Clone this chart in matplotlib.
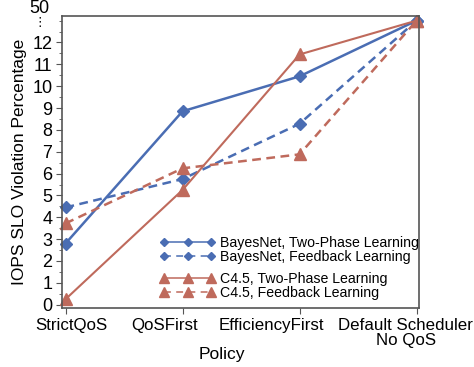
import matplotlib
matplotlib.use("Agg")
import matplotlib.pyplot as plt
from matplotlib.lines import Line2D
from matplotlib.ticker import MultipleLocator, NullFormatter
from matplotlib.transforms import ScaledTranslation, blended_transform_factory

plt.rcParams["font.family"] = ["Liberation Sans", "DejaVu Sans"]

# policies along the x axis
POLICIES = ["StrictQoS", "QoSFirst", "EfficiencyFirst", "Default Scheduler\nNo QoS"]

# violation percentages; 50 sits above the axis break
BAYES_TWO_PHASE = [2.8, 8.85, 10.45, 50]
BAYES_FEEDBACK = [4.45, 5.75, 8.28, 50]
C45_TWO_PHASE = [0.25, 5.25, 11.45, 50]
C45_FEEDBACK = [3.72, 6.24, 6.88, 50]

Y_TICKS = list(range(13))
BREAK_VALUE = 50
BREAK_POS = 13.0  # where 50 is drawn on the broken axis

BLUE = "#4A6DB3"
RED = "#BF6A5C"

# the original labels are not centred on their ticks (pixel shifts)
LABEL_SHIFT_PX = [6, -18, -28, -11]


def squash(vals):
    return [BREAK_POS if v >= BREAK_VALUE else v for v in vals]


def main():
    fig = plt.figure(figsize=(4.74, 3.67), dpi=100)
    ax = fig.add_axes([0.1308, 0.1608, 0.753, 0.795])
    x = list(range(len(POLICIES)))

    series = [
        (BAYES_TWO_PHASE, BLUE, "D", 6, None, 1.8, "BayesNet, Two-Phase Learning"),
        (BAYES_FEEDBACK, BLUE, "D", 6, (3.5, 2.2), 1.8, "BayesNet, Feedback Learning"),
        (C45_TWO_PHASE, RED, "^", 8, None, 1.5, "C4.5, Two-Phase Learning"),
        (C45_FEEDBACK, RED, "^", 8, (3.5, 2.2), 1.8, "C4.5, Feedback Learning"),
    ]
    handles = []
    for vals, c, m, ms, dash, lw, lab in series:
        kw = dict(color=c, lw=lw, marker=m, ms=ms, clip_on=False)
        if dash:
            kw["dashes"] = dash
        ax.plot(x, squash(vals), **kw)
        # thinner proxy for the legend, as in the original
        hkw = dict(color=c, lw=1.1, marker=m, ms=ms - 1.5)
        if dash:
            hkw["dashes"] = (4.5, 3.5)
        handles.append(Line2D([], [], label=lab, **hkw))

    ax.set_xlim(-0.03, 3.02)
    ax.set_ylim(-0.15, 13.2)
    ax.set_xticks(x)
    ax.xaxis.set_major_formatter(NullFormatter())
    trans = blended_transform_factory(ax.transData, ax.transAxes)
    for i, name in enumerate(POLICIES):
        t = trans + ScaledTranslation(LABEL_SHIFT_PX[i] / 100, 0,
                                      fig.dpi_scale_trans)
        ax.text(i, -0.035, name, transform=t, ha="center", va="top",
                fontsize=12.2, linespacing=0.95, multialignment="center")
    ax.set_yticks(Y_TICKS)
    ax.set_yticklabels([str(t) for t in Y_TICKS], fontsize=13)
    ax.yaxis.set_minor_locator(MultipleLocator(0.5))
    ax.tick_params(axis="y", which="major", direction="out", length=4,
                   color="#555555", pad=3)
    ax.tick_params(axis="y", which="minor", direction="out", length=2.5,
                   color="#555555")
    ax.tick_params(axis="x", direction="out", length=4, color="#555555")
    for s in ax.spines.values():
        s.set_color("#555555")
        s.set_linewidth(1.2)

    # axis break marks
    ax.text(-0.14, 13.55, str(BREAK_VALUE), ha="right", va="center",
            fontsize=13, clip_on=False)
    ax.text(-0.17, 12.9, "\u22ee", ha="right", va="center",
            fontsize=9, clip_on=False)

    ax.set_xlabel("Policy", fontsize=12.5, va="center")
    ax.xaxis.set_label_coords(0.448, -0.16)
    ax.set_ylabel("IOPS SLO Violation Percentage", fontsize=12.5, labelpad=4)

    # two legend groups with a gap between them; fig.legend keeps both
    leg_kw = dict(frameon=False, numpoints=3, handlelength=3.9, fontsize=10.2,
                  handletextpad=0.35, labelspacing=0.03, borderpad=0,
                  borderaxespad=0, loc="upper left")
    fig.legend(handles=handles[:2], bbox_to_anchor=(0.338, 0.357), **leg_kw)
    fig.legend(handles=handles[2:], bbox_to_anchor=(0.338, 0.259), **leg_kw)

    fig.savefig("out.png", dpi=100)


if __name__ == "__main__":
    main()
